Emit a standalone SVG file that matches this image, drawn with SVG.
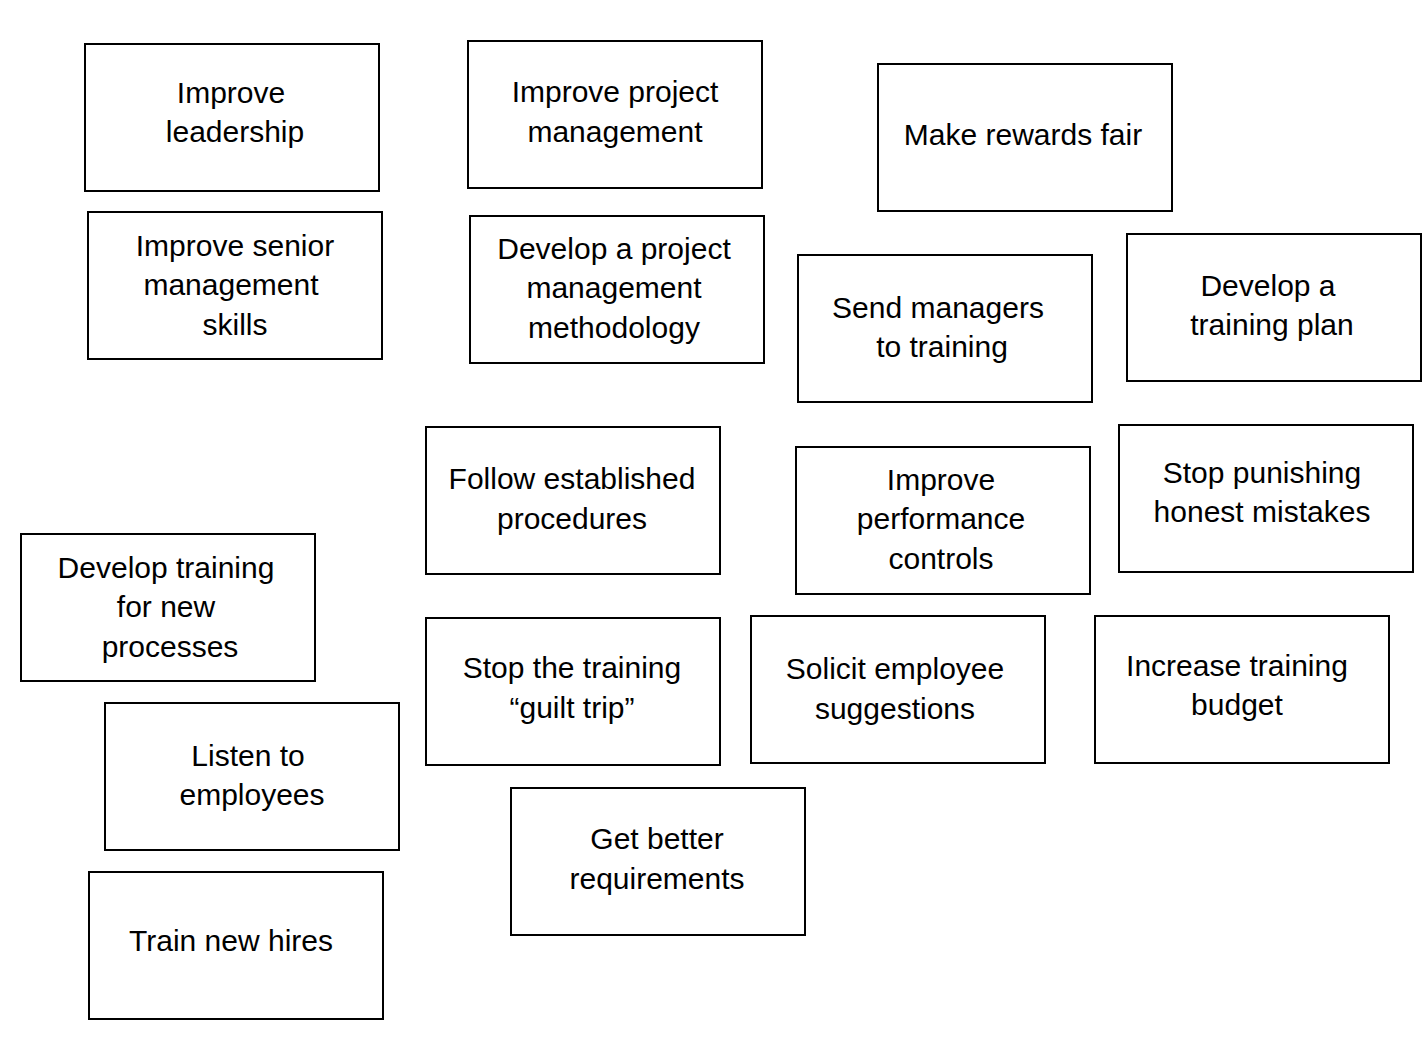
<svg xmlns="http://www.w3.org/2000/svg" width="1428" height="1052" viewBox="0 0 1428 1052">
<style>
rect{fill:#fff;stroke:#000;stroke-width:2}
text{font-family:"Liberation Sans",Arial,sans-serif;font-size:30px;fill:#000;text-anchor:middle}
</style>
<rect x="0" y="0" width="1428" height="1052" style="stroke:none"/>
<g id="n1"><rect x="85" y="44" width="294" height="147"/><text x="231" y="103">Improve</text><text x="235" y="142">leadership</text></g>
<g id="n2"><rect x="468" y="41" width="294" height="147"/><text x="615" y="102">Improve project</text><text x="615" y="142">management</text></g>
<g id="n3"><rect x="878" y="64" width="294" height="147"/><text x="1023" y="145">Make rewards fair</text></g>
<g id="n4"><rect x="88" y="212" width="294" height="147"/><text x="235" y="256">Improve senior</text><text x="231" y="295">management</text><text x="235" y="335">skills</text></g>
<g id="n5"><rect x="470" y="216" width="294" height="147"/><text x="614" y="259">Develop a project</text><text x="614" y="298">management</text><text x="614" y="338">methodology</text></g>
<g id="n6"><rect x="798" y="255" width="294" height="147"/><text x="938" y="318">Send managers</text><text x="942" y="357">to training</text></g>
<g id="n7"><rect x="1127" y="234" width="294" height="147"/><text x="1268" y="296">Develop a</text><text x="1272" y="335">training plan</text></g>
<g id="n8"><rect x="426" y="427" width="294" height="147"/><text x="572" y="489">Follow established</text><text x="572" y="529">procedures</text></g>
<g id="n9"><rect x="796" y="447" width="294" height="147"/><text x="941" y="490">Improve</text><text x="941" y="529">performance</text><text x="941" y="569">controls</text></g>
<g id="n10"><rect x="1119" y="425" width="294" height="147"/><text x="1262" y="483">Stop punishing</text><text x="1262" y="522">honest mistakes</text></g>
<g id="n11"><rect x="21" y="534" width="294" height="147"/><text x="166" y="578">Develop training</text><text x="166" y="617">for new</text><text x="170" y="657">processes</text></g>
<g id="n12"><rect x="426" y="618" width="294" height="147"/><text x="572" y="678">Stop the training</text><text x="572" y="718">“guilt trip”</text></g>
<g id="n13"><rect x="751" y="616" width="294" height="147"/><text x="895" y="679">Solicit employee</text><text x="895" y="719">suggestions</text></g>
<g id="n14"><rect x="1095" y="616" width="294" height="147"/><text x="1237" y="676">Increase training</text><text x="1237" y="715">budget</text></g>
<g id="n15"><rect x="105" y="703" width="294" height="147"/><text x="248" y="766">Listen to</text><text x="252" y="805">employees</text></g>
<g id="n16"><rect x="511" y="788" width="294" height="147"/><text x="657" y="849">Get better</text><text x="657" y="889">requirements</text></g>
<g id="n17"><rect x="89" y="872" width="294" height="147"/><text x="231" y="951">Train new hires</text></g>
<g id="connectors"></g>
</svg>
